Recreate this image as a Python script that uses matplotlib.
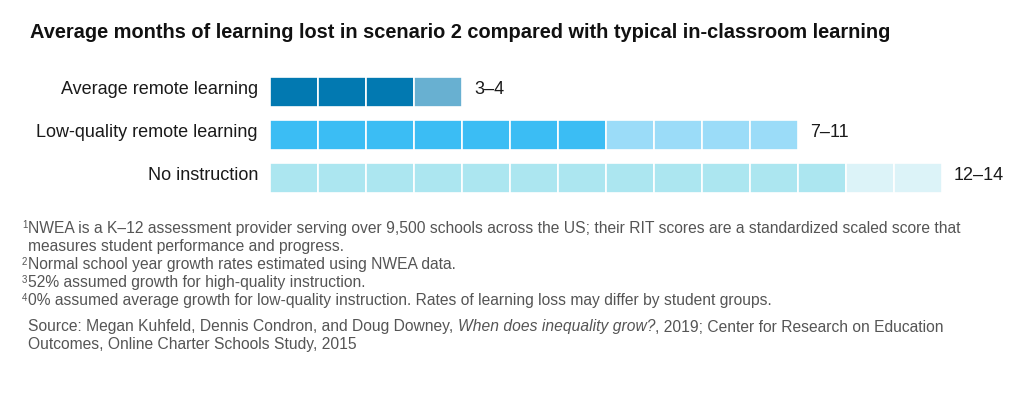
import matplotlib.pyplot as plt

plt.rcParams['font.family'] = ['Liberation Sans', 'DejaVu Sans']

categories = ["Average remote learning", "Low-quality remote learning", "No instruction"]
months_low = [3, 7, 12]
months_high = [4, 11, 14]
range_labels = ["3\u20134", "7\u201311", "12\u201314"]

dark_colors = ["#0279b1", "#3bbdf4", "#ace6f0"]
light_colors = ["#68b0d1", "#9bdcf8", "#dcf3f8"]

notes = [
    ("1", "NWEA is a K\u201312 assessment provider serving over 9,500 schools across the US; their RIT scores are a standardized scaled score that"),
    ("", "measures student performance and progress."),
    ("2", "Normal school year growth rates estimated using NWEA data."),
    ("3", "52% assumed growth for high-quality instruction."),
    ("4", "0% assumed average growth for low-quality instruction. Rates of learning loss may differ by student groups."),
]

W, H = 1015, 393
fig = plt.figure(figsize=(W / 100, H / 100), dpi=100)
grey = '#555555'
note_size = 11.25

# axes placed in pixel terms: x 270..942 for 14 months, rows centred at 92/135/178
ax = fig.add_axes([270 / W, 1 - 199.5 / H, 672 / W, 129 / H])
ax.set_xlim(0, 14)
ax.set_ylim(2.5, -0.5)
ax.axis('off')

for i, cat in enumerate(categories):
    n = months_high[i]
    cols = [dark_colors[i] if k < months_low[i] else light_colors[i] for k in range(n)]
    ax.barh([i] * n, [1] * n, left=list(range(n)), height=0.7,
            color=cols, edgecolor='white', linewidth=1.2)
    ax.text(-0.25, i - 0.05, cat, ha='right', va='center', fontsize=13, color='#1a1a1a')
    ax.text(n + 0.25, i - 0.05, range_labels[i], ha='left', va='center', fontsize=13, color='#1a1a1a')

fig.text(30 / W, 1 - 33 / H, "Average months of learning lost in scenario 2 compared with typical in-classroom learning",
         ha='left', va='center', fontsize=14.4, fontweight='bold', color='#111111')

ys = [228, 246, 265, 283, 301]
for (sup, txt), y in zip(notes, ys):
    if sup:
        fig.text(22 / W, 1 - (y - 3) / H, sup, ha='left', va='center', fontsize=7, color=grey)
    fig.text(28 / W, 1 - y / H, txt, ha='left', va='center', fontsize=note_size, color=grey)

# source line is built in pieces so the study title can be italic
r = fig.canvas.get_renderer()
t1 = fig.text(28 / W, 1 - 327 / H, "Source: Megan Kuhfeld, Dennis Condron, and Doug Downey, ",
              ha='left', va='center', fontsize=note_size, color=grey)
bb = t1.get_window_extent(renderer=r)
t2 = fig.text(bb.x1 / W, 1 - 327 / H, "When does inequality grow?",
              ha='left', va='center', fontsize=note_size, color=grey, style='italic')
bb2 = t2.get_window_extent(renderer=r)
fig.text(bb2.x1 / W, 1 - 327 / H, ", 2019; Center for Research on Education",
         ha='left', va='center', fontsize=note_size, color=grey)
fig.text(28 / W, 1 - 345 / H, "Outcomes, Online Charter Schools Study, 2015",
         ha='left', va='center', fontsize=note_size, color=grey)

fig.savefig('out.png', dpi=100)
